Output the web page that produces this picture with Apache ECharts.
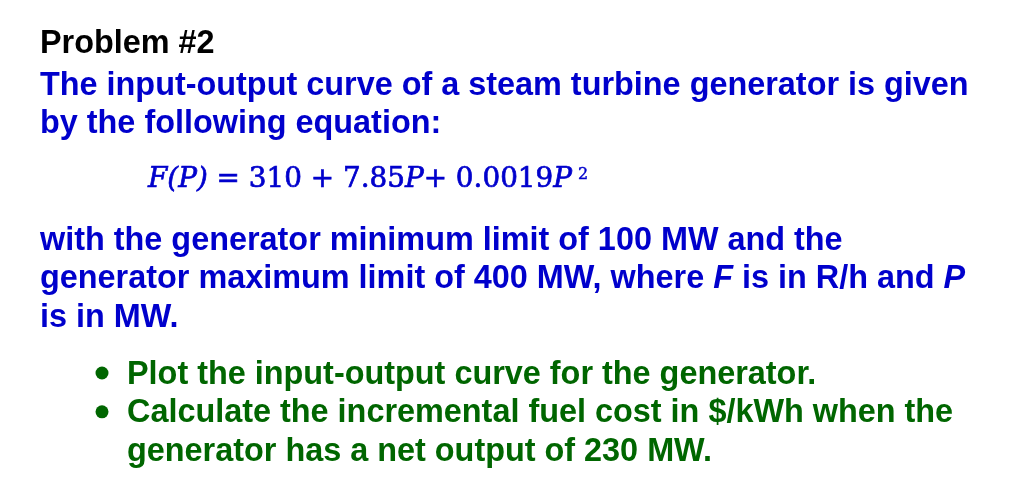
<!DOCTYPE html>
<html>
<head>
<meta charset="utf-8">
<script src="https://cdn.jsdelivr.net/npm/echarts@6/dist/echarts.min.js"></script>
<style>
  html, body { margin: 0; padding: 0; background: #ffffff; }
  #chart { width: 1024px; height: 484px; }
</style>
</head>
<body>
<div id="chart"></div>
<script>
// ---- content (text) ----
const headingLines = ['Problem #2'];
const introLines = [
  'The input-output curve of a steam turbine generator is given',
  'by the following equation:'
];
// equation pieces: [text, style-key]
const equationParts = [
  ['F(P)', 'it'],
  [' =', 'n'],
  [' 310', 'n'],
  [' + ', 'n'],
  ['7.85', 'n'],
  ['P', 'it'],
  ['+ ', 'n'],
  ['0.0019', 'n'],
  ['P', 'it']
];
const equationExponent = '2';
const limitLines = [
  'with the generator minimum limit of 100 MW and the',
  'generator maximum limit of 400 MW, where {i|F} is in R/h and {i|P}',
  'is in MW.'
];
const bulletItems = [
  ['Plot the input-output curve for the generator.'],
  ['Calculate the incremental fuel cost in $/kWh when the',
   'generator has a net output of 230 MW.']
];

// ---- styling / layout ----
const BLACK = '#000000', BLUE = '#0000cc', GREEN = '#006600';
const SANS = '"Liberation Sans", Arial, sans-serif';
const SERIF = '"DejaVu Serif", serif';
const FS = 32.4;
const LH = 38.8;
const BASE_OFF = 0.81 * FS - 3; // distance from element top to baseline

function textEl(str, x, baseline, color, rich) {
  return {
    type: 'text',
    x: x,
    y: baseline - BASE_OFF,
    style: {
      text: str,
      fill: color,
      fontFamily: SANS,
      fontWeight: 'bold',
      fontSize: FS,
      align: 'left',
      verticalAlign: 'top',
      rich: rich || undefined
    }
  };
}

const elements = [];
headingLines.forEach(function (s, i) {
  elements.push(textEl(s, 40, 51 + i * LH, BLACK));
});
introLines.forEach(function (s, i) {
  elements.push(textEl(s, 40, 93 + i * LH, BLUE));
});
const italicRich = {
  i: { fontFamily: SANS, fontWeight: 'bold', fontStyle: 'italic', fontSize: FS, fill: BLUE }
};
limitLines.forEach(function (s, i) {
  elements.push(textEl(s, 40, 248 + i * LH, BLUE, italicRich));
});
let row = 0;
bulletItems.forEach(function (item) {
  const baseline = 382 + row * LH;
  elements.push({
    type: 'circle',
    shape: { cx: 102, cy: baseline - 9, r: 6.5 },
    style: { fill: GREEN }
  });
  item.forEach(function (s) {
    elements.push(textEl(s, 127, 382 + row * LH, GREEN));
    row++;
  });
});

// equation as rich text
const EQ_FS = 28, SUP_FS = 16;
const eqRich = {
  it: { fontFamily: SERIF, fontStyle: 'italic', fontSize: EQ_FS, fill: BLUE, stroke: BLUE, lineWidth: 0.7 },
  n:  { fontFamily: SERIF, fontSize: EQ_FS, fill: BLUE, stroke: BLUE, lineWidth: 0.7 }
};
// measure natural width to fit the reference span (148 -> 572)
const mctx = document.createElement('canvas').getContext('2d');
let eqWidth = 0;
equationParts.forEach(function (p) {
  const st = eqRich[p[1]];
  mctx.font = (st.fontStyle === 'italic' ? 'italic ' : '') + st.fontSize + 'px ' + SERIF;
  eqWidth += mctx.measureText(p[0]).width;
});
const eqScale = (572 - 148) / eqWidth;
const eqText = equationParts.map(function (p) { return '{' + p[1] + '|' + p[0] + '}'; }).join('');
elements.push({
  type: 'text',
  x: 148,
  y: 186 - 20,
  scaleX: eqScale,
  style: {
    text: eqText,
    rich: eqRich,
    fill: BLUE,
    fontFamily: SERIF,
    fontSize: EQ_FS,
    align: 'left',
    verticalAlign: 'top'
  }
});
elements.push({
  type: 'text',
  x: 578,
  y: 167,
  style: {
    text: equationExponent,
    fill: BLUE,
    stroke: BLUE,
    lineWidth: 0.4,
    fontFamily: SERIF,
    fontSize: SUP_FS,
    align: 'left',
    verticalAlign: 'top'
  }
});

const chart = echarts.init(document.getElementById('chart'), null, { renderer: 'canvas' });
chart.setOption({
  backgroundColor: '#ffffff',
  animation: false,
  graphic: { elements: elements }
});
</script>
</body>
</html>
